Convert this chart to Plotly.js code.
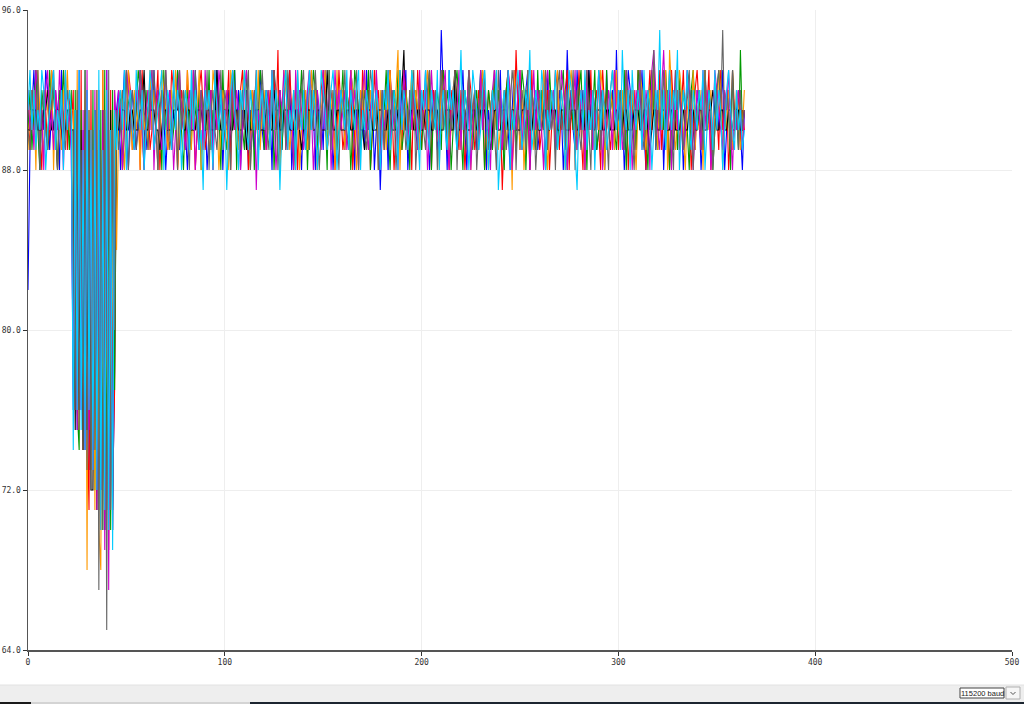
<!DOCTYPE html>
<html>
<head>
<meta charset="utf-8">
<script src="https://cdn.plot.ly/plotly-3.0.1.min.js"></script>
<style>html,body{margin:0;padding:0;background:#fff;}#chart{width:1024px;height:704px;}</style>
</head>
<body>
<div id="chart"></div>
<script>
// Serial plotter samples (index 0..364), one array per channel
const seriesBlue = [
82,89,91,93,90,92,88,91,90,93,92,89,91,90,92,91,88,93,90,92,
90,91,89,76,91,75,93,76,90,74,92,73,89,74,91,72,92,71,90,70,
93,72,89,71,78,91,92,88,91,93,90,88,91,92,90,89,91,93,92,90,
89,91,92,90,93,91,88,90,92,91,88,90,92,89,91,90,93,89,91,92,
90,88,91,92,90,93,91,89,92,90,91,88,90,92,89,91,93,90,92,88,
91,90,92,89,91,93,90,92,88,91,90,92,88,91,90,89,92,91,93,90,
89,92,90,91,88,93,91,90,92,89,91,90,92,93,88,90,91,92,90,88,
91,89,92,90,93,91,88,92,90,91,89,93,90,92,91,88,90,92,91,90,
92,89,91,90,93,92,88,91,90,92,91,89,93,90,91,92,88,90,91,87,
90,92,91,88,93,90,92,91,89,90,92,91,93,88,90,91,92,90,89,91,
92,90,93,91,88,90,92,91,89,90,95,92,91,88,93,90,91,92,89,90,
91,93,90,88,92,91,90,92,89,91,93,90,92,88,91,90,89,92,91,90,
93,89,91,92,90,88,91,93,90,92,89,91,90,92,93,88,90,91,92,89,
90,92,91,88,93,90,91,92,89,90,92,91,88,90,94,91,92,90,89,93,
91,90,92,88,91,93,90,92,91,89,90,92,91,88,93,90,91,92,89,94,
90,92,91,88,90,93,92,91,89,90,92,91,93,90,88,91,92,90,93,89,
91,90,92,88,91,90,93,92,89,91,90,92,91,88,90,93,91,92,90,89,
92,91,88,90,93,91,92,90,89,91,92,90,91,93,88,90,92,91,89,90,
91,92,90,88,91];

const seriesRed = [
91,89,92,90,93,91,90,88,92,91,89,90,93,92,90,88,91,92,90,93,
89,92,90,92,76,90,75,93,74,89,76,71,92,74,91,73,90,70,93,72,
91,69,92,72,77,91,90,92,88,91,90,93,92,89,90,91,92,88,93,90,
91,92,89,90,92,91,93,88,90,92,91,89,90,93,92,91,88,90,92,91,
89,93,90,92,91,88,90,92,93,91,89,90,91,92,88,93,90,91,92,89,
90,91,93,88,92,90,91,89,92,93,90,91,88,90,92,91,93,89,90,92,
91,89,90,92,91,93,90,94,88,91,92,90,89,93,91,90,92,88,91,90,
92,91,89,93,90,92,91,88,90,92,93,91,89,90,92,91,88,90,93,91,
89,90,92,91,93,88,90,92,91,89,93,90,91,92,88,90,93,91,92,90,
91,89,92,90,93,91,88,90,92,91,89,93,92,90,91,88,92,90,93,91,
89,92,90,91,93,88,92,91,90,89,92,93,91,90,88,92,91,93,90,89,
92,91,88,90,93,92,91,89,90,92,91,93,88,90,92,91,89,93,90,92,
91,87,90,92,93,91,88,90,94,91,93,89,90,92,91,88,93,90,91,92,
89,90,93,91,92,88,90,91,93,92,89,91,90,92,93,88,91,90,92,91,
93,90,88,92,91,90,93,89,91,92,90,88,93,91,92,90,89,91,93,92,
89,91,90,92,93,88,90,91,92,89,93,91,90,92,88,91,93,90,92,91,
90,93,89,91,92,90,88,93,91,90,92,89,91,93,90,92,91,88,90,92,
93,91,89,90,92,91,93,88,90,92,91,89,93,90,91,92,88,90,93,91,
90,92,89,91,90];

const seriesGreen = [
90,92,89,91,93,90,88,92,91,90,89,93,91,92,90,88,92,91,93,90,
91,89,92,78,92,76,74,91,75,93,73,90,74,92,72,89,71,91,70,93,
71,90,70,92,77,90,91,92,88,90,93,91,92,90,89,91,93,92,90,88,
92,90,91,93,89,90,92,91,88,93,90,91,92,89,90,91,93,92,90,88,
91,92,90,89,93,91,90,92,88,91,92,90,93,89,91,90,92,91,88,93,
90,89,91,92,90,93,88,91,92,90,89,93,91,90,92,88,91,90,93,92,
89,91,92,90,93,88,90,91,92,89,91,93,90,92,91,88,90,92,91,93,
90,92,88,91,90,93,92,89,91,90,92,91,88,93,90,91,92,89,90,91,
93,90,92,91,88,90,93,92,91,89,90,92,91,93,88,90,91,92,90,89,
92,91,93,90,88,91,92,90,93,91,89,90,92,91,88,93,90,92,91,90,
89,91,92,90,93,88,91,90,92,91,89,93,90,92,91,88,90,92,93,91,
90,88,92,91,93,90,89,91,92,90,93,91,88,90,92,91,89,93,90,92,
91,90,88,92,93,91,90,92,89,91,90,93,92,88,91,90,92,91,89,93,
90,92,91,88,90,93,91,92,90,89,91,92,93,90,88,91,92,90,91,89,
92,93,90,91,88,92,90,91,93,89,90,92,91,88,93,90,92,91,90,89,
91,92,90,93,88,91,90,92,91,89,93,90,92,91,90,88,92,93,91,90,
89,91,92,90,93,91,88,90,92,91,89,93,90,92,91,90,88,92,93,91,
90,92,89,91,93,90,92,91,88,90,92,93,91,89,90,92,91,88,93,90,
91,89,94,90,91];

const seriesOrange = [
89,91,90,92,88,93,91,90,89,92,91,90,93,88,92,90,91,89,92,90,
93,90,91,91,77,93,75,90,74,92,68,91,73,89,71,92,70,68,93,71,
90,70,91,71,92,84,90,91,92,88,90,93,91,89,92,90,91,88,92,90,
91,89,93,90,92,91,88,90,93,92,91,89,90,92,91,93,88,90,91,92,
90,93,91,89,92,90,91,93,88,90,92,91,89,90,93,92,91,88,90,92,
91,90,88,93,92,90,91,89,90,92,93,91,90,88,92,91,90,93,89,91,
92,90,91,89,93,90,92,91,88,90,93,92,91,89,90,92,91,93,88,90,
91,92,89,90,93,91,92,88,90,91,92,93,89,90,91,92,88,93,90,91,
92,89,91,90,93,92,91,88,90,92,91,93,90,89,92,91,90,93,88,92,
90,91,89,92,93,90,91,92,94,88,91,90,92,89,91,93,90,92,91,89,
91,90,92,93,89,91,90,92,91,88,93,90,92,91,89,90,92,93,91,90,
89,92,91,90,93,88,91,92,90,89,91,93,92,90,88,91,92,90,93,89,
90,91,92,89,91,92,87,93,90,91,89,92,88,90,93,91,92,89,90,91,
92,90,93,91,88,90,92,91,89,93,90,92,91,88,90,92,93,91,90,89,
91,92,90,88,93,91,90,92,89,91,90,93,92,88,91,90,92,91,89,93,
90,91,92,89,93,90,91,92,90,88,91,93,92,90,89,91,92,90,93,91,
89,92,90,91,93,88,94,92,90,89,91,93,92,90,88,91,92,90,93,89,
91,90,92,88,93,91,90,92,89,91,90,93,92,88,91,90,92,91,89,90,
92,91,89,90,92];

const seriesPurple = [
92,90,91,89,93,92,90,91,88,92,93,90,91,89,92,90,93,91,88,92,
90,91,89,77,90,75,92,76,91,74,93,75,89,73,92,71,90,72,91,69,
93,67,89,70,92,90,92,91,88,90,93,92,91,90,89,92,91,93,90,88,
91,92,90,93,88,91,92,90,89,91,93,90,92,91,88,90,92,93,91,90,
89,91,92,90,93,88,90,91,92,89,93,91,90,92,88,91,90,93,92,91,
90,92,89,91,93,90,92,91,88,90,92,93,91,89,90,92,87,91,90,92,
91,89,92,90,93,91,88,90,92,91,93,89,90,92,91,88,93,90,92,91,
89,90,92,93,91,88,90,92,91,89,93,90,91,92,88,90,93,91,92,90,
91,92,89,90,93,91,92,90,88,91,92,93,90,89,91,92,90,93,91,88,
92,90,91,93,89,92,90,91,88,92,90,93,91,89,92,90,92,91,89,93,
90,91,92,88,90,93,91,92,90,89,91,92,93,90,88,91,92,90,91,93,
89,92,90,91,93,88,90,92,91,89,93,90,92,91,90,88,92,93,91,90,
92,89,91,90,93,92,88,91,90,92,93,89,91,90,92,88,91,93,90,92,
91,90,88,92,93,91,90,92,89,91,90,93,92,91,88,90,92,91,93,89,
90,92,91,88,93,90,92,89,91,90,93,92,88,91,90,92,91,89,93,90,
92,91,89,90,93,92,91,88,90,92,91,93,89,90,92,91,88,93,94,92,
90,89,92,94,91,90,92,88,91,93,90,92,91,89,90,93,92,91,88,90,
92,91,89,93,90,92,91,88,90,93,92,91,90,89,92,91,93,90,88,91,
90,92,91,89,91];

const seriesGray = [
90,89,92,91,90,93,88,91,92,90,89,92,91,93,90,88,91,92,90,89,
92,91,90,90,76,92,75,89,74,93,73,91,72,90,74,92,67,89,70,91,
65,93,71,90,80,91,89,90,92,91,93,88,90,92,91,89,90,93,92,91,
90,89,92,91,93,90,88,91,92,90,93,91,89,90,92,91,88,93,90,92,
91,90,88,92,91,93,90,89,92,91,90,93,88,91,92,90,89,91,93,90,
92,91,90,88,93,92,90,91,89,92,90,91,93,88,90,92,91,89,90,93,
91,92,89,90,91,93,92,88,90,91,92,89,93,91,90,92,88,91,90,92,
93,90,91,89,92,90,93,91,88,90,92,91,90,93,89,92,91,90,88,92,
91,93,90,89,92,91,90,93,88,91,92,90,89,91,93,92,90,91,88,90,
92,89,91,93,90,92,91,88,90,93,92,91,89,90,92,91,93,88,90,92,
91,90,89,92,93,91,90,92,88,91,93,90,92,89,91,90,92,93,88,91,
90,92,91,89,93,90,91,92,88,90,92,91,93,90,89,91,92,90,88,93,
91,90,92,89,90,91,93,92,88,91,90,92,91,89,93,90,92,91,88,90,
92,91,90,93,89,92,90,91,88,92,93,90,91,89,92,90,91,93,88,92,
90,89,91,92,93,90,88,92,91,90,93,89,92,91,90,88,92,93,91,90,
91,92,90,89,93,91,92,90,88,91,92,93,90,89,91,92,90,91,94,89,
92,90,91,93,89,92,91,90,88,93,91,92,90,89,91,92,93,90,88,91,
90,92,91,89,93,90,92,91,88,90,92,93,91,95,90,92,91,89,93,90,
91,89,92,90,91];

const seriesCyan = [
91,93,90,92,89,91,90,93,92,88,90,91,92,93,89,91,90,92,88,93,
90,92,91,74,91,76,93,75,89,74,92,76,90,73,91,72,93,70,89,71,
92,70,90,69,91,89,91,92,90,93,88,91,92,90,89,93,91,90,92,88,
90,91,93,92,89,90,91,92,93,88,90,92,91,89,93,90,92,91,88,90,
92,91,89,93,90,92,91,89,90,87,92,91,92,90,88,93,91,90,92,89,
91,87,90,92,93,91,90,88,92,91,93,90,89,92,91,90,93,88,91,92,
90,92,91,89,93,90,92,91,87,90,92,93,89,91,90,92,88,93,91,90,
92,89,91,93,90,92,91,88,90,93,92,91,89,90,92,93,91,88,90,92,
91,90,93,89,92,91,90,92,93,88,91,90,92,91,89,93,90,92,91,88,
90,92,91,93,89,90,92,91,88,93,90,92,91,89,90,93,92,91,90,88,
92,91,93,90,89,92,91,90,93,88,91,92,90,89,93,91,92,90,89,91,
94,90,92,91,88,90,93,92,91,89,90,92,93,91,88,90,92,91,93,87,
89,91,92,90,93,88,91,90,92,93,91,89,90,92,91,94,89,90,92,91,
90,93,92,88,91,90,92,91,93,89,90,92,91,88,90,93,92,91,89,87,
91,92,90,93,89,91,90,92,88,91,93,90,92,91,89,90,92,93,91,90,
92,89,94,91,90,92,88,93,91,90,92,91,89,93,90,92,91,88,90,92,
91,95,90,92,89,91,93,90,92,91,94,88,90,92,91,93,90,89,92,91,
90,92,91,93,88,90,92,91,89,93,90,92,91,88,90,92,93,91,90,89,
92,90,91,89,90];

const seriesBlack = [
90,90,91,91,91,90,90,90,91,91,92,91,90,90,91,91,91,90,89,90,
91,91,90,90,75,91,76,90,74,91,75,90,72,72,91,71,90,72,91,70,
90,71,91,70,90,90,90,91,91,91,90,90,91,91,90,90,90,91,91,93,
90,90,91,91,91,90,90,89,90,91,91,90,90,90,91,91,91,92,91,90,
90,91,91,90,90,90,91,91,91,90,90,91,91,90,90,90,93,91,90,90,
91,91,91,90,90,91,91,90,90,90,91,89,91,90,90,91,91,91,90,90,
90,91,91,90,90,92,91,91,90,90,91,91,91,90,90,90,91,91,90,89,
90,90,91,91,91,90,90,91,91,90,90,90,93,91,91,90,90,91,91,90,
90,90,91,91,90,90,91,91,91,90,90,89,90,91,91,90,90,90,91,91,
91,90,90,91,91,90,90,90,91,91,92,94,90,90,91,91,90,90,91,91,
90,90,91,91,91,90,90,91,91,90,90,90,91,91,91,90,90,93,91,90,
90,91,91,90,90,90,91,91,90,90,91,91,91,90,90,89,90,91,91,90,
90,91,91,91,90,90,91,91,90,90,90,91,91,92,91,90,90,91,91,90,
90,90,91,91,90,90,91,91,91,90,90,91,91,90,90,90,91,91,91,90,
90,91,91,90,90,93,91,90,90,91,91,91,90,90,91,91,90,90,90,91,
91,90,90,91,91,90,90,90,91,91,91,90,90,91,91,90,89,90,91,91,
90,90,91,91,91,90,90,91,91,90,90,90,91,91,90,90,91,91,91,90,
90,91,91,90,90,90,91,91,92,91,90,90,91,91,90,90,91,91,90,90,
91,91,90,90,91];

const seriesNames = ["Blue", "Red", "Green", "Orange", "Black", "Purple", "Gray", "Cyan"];
const seriesColors = ["#0000FF", "#FF0000", "#009900", "#FF9900", "#000000", "#CC00CC", "#666666", "#00CCFF"];
const xTickValues = [0, 100, 200, 300, 400, 500];
const yTickValues = [64, 72, 80, 88, 96];
const baudLabel = "115200 baud";

const allSeries = [seriesBlue, seriesRed, seriesGreen, seriesOrange, seriesBlack, seriesPurple, seriesGray, seriesCyan];

const traces = allSeries.map((vals, s) => ({
  type: "scatter",
  mode: "lines",
  x: vals.map((_, i) => i),
  y: vals,
  name: seriesNames[s],
  line: {color: seriesColors[s], width: 1.1, simplify: false, shape: "linear"},
  hoverinfo: "skip"
}));

// pixel helpers for decorations outside plot area (plot area: x 28..1012, y 10..650)
const px = v => (v - 28) / 984;
const py = v => (650 - v) / 640;

const layout = {
  width: 1024,
  height: 704,
  margin: {l: 28, r: 12, t: 10, b: 54, pad: 0},
  paper_bgcolor: "#ffffff",
  plot_bgcolor: "#ffffff",
  showlegend: false,
  xaxis: {
    range: [0, 500],
    tickvals: xTickValues,
    ticktext: xTickValues.map(String),
    showgrid: true,
    gridcolor: "#eeeeee",
    gridwidth: 1,
    zeroline: false,
    showline: true,
    linecolor: "#555555",
    linewidth: 1.5,
    ticks: "outside",
    ticklen: 4,
    tickcolor: "#333333",
    tickfont: {family: "DejaVu Sans Mono", size: 8, color: "#333333"},
    fixedrange: true
  },
  yaxis: {
    range: [64, 96],
    tickvals: yTickValues,
    ticktext: yTickValues.map(v => v.toFixed(1)),
    showgrid: true,
    gridcolor: "#eeeeee",
    gridwidth: 1,
    zeroline: false,
    showline: true,
    linecolor: "#555555",
    linewidth: 1.5,
    ticks: "outside",
    ticklen: 4,
    tickcolor: "#333333",
    tickfont: {family: "DejaVu Sans Mono", size: 8, color: "#333333"},
    fixedrange: true
  },
  shapes: [
    {type: "rect", xref: "paper", yref: "paper", x0: px(0), x1: px(1024), y0: py(702), y1: py(685),
     fillcolor: "#eeeeee", line: {width: 0}, layer: "below"},
    {type: "line", xref: "paper", yref: "paper", x0: px(0), x1: px(1024), y0: py(685), y1: py(685),
     line: {color: "#e2e2e2", width: 1}},
    {type: "rect", xref: "paper", yref: "paper", x0: px(960), x1: px(1004), y0: py(698), y1: py(688),
     fillcolor: "#ffffff", line: {color: "#444444", width: 1}},
    {type: "rect", xref: "paper", yref: "paper", x0: px(1006), x1: px(1020), y0: py(699), y1: py(687),
     fillcolor: "#f6f6f6", line: {color: "#b0b0b0", width: 1}},
    {type: "path", xref: "paper", yref: "paper",
     path: "M " + px(1010.5) + "," + py(692) + " L " + px(1013) + "," + py(694.5) + " L " + px(1015.5) + "," + py(692),
     line: {color: "#555555", width: 1}},
    {type: "line", xref: "paper", yref: "paper", x0: px(0), x1: px(31), y0: py(703), y1: py(703),
     line: {color: "#1a1a1a", width: 2}},
    {type: "line", xref: "paper", yref: "paper", x0: px(31), x1: px(250), y0: py(703), y1: py(703),
     line: {color: "#d4d4d4", width: 2}},
    {type: "line", xref: "paper", yref: "paper", x0: px(250), x1: px(1024), y0: py(703), y1: py(703),
     line: {color: "#1c2530", width: 2}}
  ],
  annotations: [
    {xref: "paper", yref: "paper", x: px(982), y: py(693.5), xanchor: "center", yanchor: "middle",
     text: baudLabel, showarrow: false,
     font: {family: "Liberation Sans", size: 7.5, color: "#222222"}}
  ]
};

Plotly.newPlot("chart", traces, layout, {staticPlot: true, displayModeBar: false});
</script>
</body>
</html>
